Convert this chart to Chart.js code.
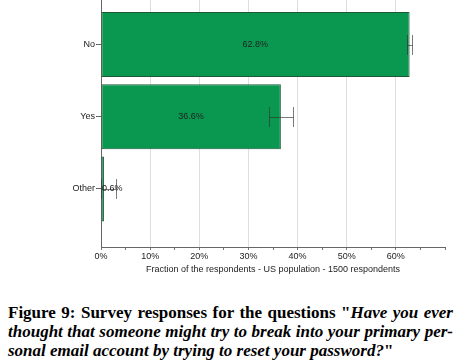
<!DOCTYPE html>
<html>
<head>
<meta charset="utf-8">
<script src="https://cdn.jsdelivr.net/npm/chart.js@4/dist/chart.umd.min.js"></script>
<style>
  html, body { margin: 0; padding: 0; background: #fff; width: 474px; height: 360px; overflow: hidden; }
  #wrap { position: absolute; left: 0; top: 0; width: 474px; height: 275px; }
  #caption { position: absolute; left: 8px; top: 303px; width: 445px;
    font-family: "Liberation Serif", "Times New Roman", serif; font-weight: bold;
    font-size: 17px; line-height: 19px; color: #000; }
  #caption .l { text-align: justify; text-align-last: justify; white-space: nowrap; }
  #caption .last { text-align: left; white-space: nowrap; }
</style>
</head>
<body>
<div id="wrap"><canvas id="c"></canvas></div>
<div id="caption">
  <div class="l">Figure 9: Survey responses for the questions "<i>Have you ever</i></div>
  <div class="l"><i>thought that someone might try to break into your primary per-</i></div>
  <div class="last"><i>sonal email account by trying to reset your password?</i>"</div>
</div>
<script>
const categories = ["No", "Yes", "Other"];
const values = [62.8, 36.6, 0.6];
const errLow = [62.3, 34.1, 0.0];
const errHigh = [63.3, 39.1, 3.0];
const xTickValues = [0, 10, 20, 30, 40, 50, 60];
const xAxisTitle = "Fraction of the respondents - US population - 1500 respondents";

const FONT = { family: "'Liberation Sans', Arial, Helvetica, sans-serif", size: 9 };

const errorBarPlugin = {
  id: 'errorBars',
  afterDatasetsDraw(chart) {
    const ctx = chart.ctx;
    const xs = chart.scales.x, ys = chart.scales.y;
    ctx.save();
    ctx.strokeStyle = 'rgba(50,50,50,0.65)';
    ctx.lineWidth = 1;
    categories.forEach((c, i) => {
      const y = Math.round(ys.getPixelForValue(i));
      const x1 = Math.round(xs.getPixelForValue(errLow[i])) + 0.5;
      const x2 = Math.round(xs.getPixelForValue(errHigh[i])) + 0.5;
      const h = 10;
      ctx.beginPath();
      ctx.moveTo(x1, y + 0.5); ctx.lineTo(x2, y + 0.5);
      ctx.moveTo(x1, y - h); ctx.lineTo(x1, y + h);
      ctx.moveTo(x2, y - h); ctx.lineTo(x2, y + h);
      ctx.stroke();
    });
    ctx.fillStyle = '#222';
    ctx.font = FONT.size + 'px ' + FONT.family;
    ctx.textBaseline = 'middle';
    categories.forEach((c, i) => {
      const y = ys.getPixelForValue(i);
      const x0 = xs.getPixelForValue(0);
      const xv = xs.getPixelForValue(values[i]);
      const txt = values[i].toFixed(1) + '%';
      const w = ctx.measureText(txt).width;
      if (w < (xv - x0)) {
        ctx.textAlign = 'center';
        ctx.fillText(txt, (x0 + xv) / 2, y);
      } else {
        ctx.textAlign = 'left';
        ctx.fillText(txt, x0 + 1, y);
      }
    });
    ctx.restore();
  }
};

new Chart(document.getElementById('c'), {
  type: 'bar',
  data: {
    datasets: [{
      data: categories.map((c, i) => ({ x: values[i], y: i })),
      backgroundColor: '#0a9850',
      borderColor: '#1c5a36',
      borderWidth: 1,
      borderSkipped: false,
      barPercentage: 0.9,
      categoryPercentage: 1.0
    }]
  },
  options: {
    indexAxis: 'y',
    responsive: true,
    maintainAspectRatio: false,
    animation: false,
    layout: { padding: { left: 0, right: 29, top: 0, bottom: 0 } },
    plugins: { legend: { display: false }, tooltip: { enabled: false } },
    scales: {
      x: {
        type: 'linear',
        min: 0, max: 70,
        afterFit: s => { s.height = 28; s.paddingLeft = 0; s.paddingRight = 0; },
        ticks: {
          stepSize: 5,
          color: '#222',
          font: FONT,
          padding: 1,
          maxRotation: 0,
          autoSkip: false,
          callback: v => xTickValues.includes(v) ? v + '%' : ''
        },
        grid: {
          color: c => (c.tick && xTickValues.includes(c.tick.value) && c.tick.value > 0) ? '#dedede' : 'rgba(0,0,0,0)',
          tickColor: '#777',
          tickLength: 3,
          lineWidth: 1
        },
        border: { color: '#666', width: 1 },
        title: { display: true, text: xAxisTitle, color: '#222', font: FONT, padding: 0 }
      },
      y: {
        type: 'linear',
        reverse: true,
        offset: false,
        min: -0.616, max: 2.803,
        afterFit: s => { s.width = 101; s.paddingTop = 0; s.paddingBottom = 0; },
        afterBuildTicks: s => { s.ticks = categories.map((c, i) => ({ value: i })); },
        ticks: {
          color: '#222',
          font: FONT,
          padding: 1,
          autoSkip: false,
          callback: v => categories[v]
        },
        grid: { offset: false, drawOnChartArea: false, tickColor: '#666', tickLength: 5 },
        border: { color: '#666', width: 1 }
      }
    }
  },
  plugins: [errorBarPlugin]
});
</script>
</body>
</html>
